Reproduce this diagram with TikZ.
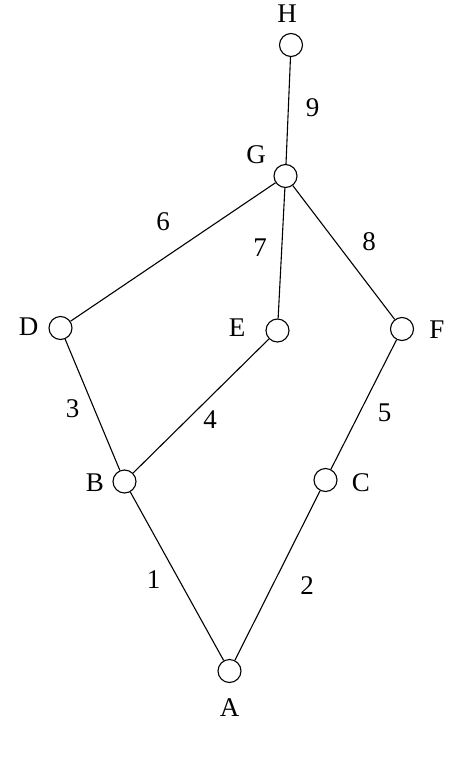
\documentclass[tikz,border=0pt]{standalone}
\usepackage{fontspec}
\setmainfont{Liberation Serif}
\begin{document}
\begin{tikzpicture}[x=1pt,y=-1pt,
  vert/.style={circle,draw,line width=1.1pt,minimum size=23pt,inner sep=0pt},
  lbl/.style={inner sep=0pt,font=\fontsize{27}{31}\selectfont},
  edge/.style={line width=1.1pt}]
\useasboundingbox (0,0) rectangle (461,761);
\node[vert] (H) at (291,45) {};
\node[vert] (G) at (285.5,176) {};
\node[vert] (D) at (60.5,328) {};
\node[vert] (E) at (277.5,330.5) {};
\node[vert] (F) at (402,329) {};
\node[vert] (B) at (124.5,481.5) {};
\node[vert] (C) at (325.5,480) {};
\node[vert] (A) at (229.5,671) {};
\node[lbl] (lH) at (287,14) {H};
\node[lbl] (lG) at (256,155) {G};
\node[lbl] (lD) at (28.5,327) {D};
\node[lbl] (lE) at (237,328) {E};
\node[lbl] (lF) at (437,330) {F};
\node[lbl] (lB) at (95,482.5) {B};
\node[lbl] (lC) at (361,482.5) {C};
\node[lbl] (lA) at (229.5,708) {A};
\draw[edge] (H) -- (G);
\draw[edge] (G) -- (D);
\draw[edge] (G) -- (E);
\draw[edge] (G) -- (F);
\draw[edge] (D) -- (B);
\draw[edge] (E) -- (B);
\draw[edge] (F) -- (C);
\draw[edge] (B) -- (A);
\draw[edge] (C) -- (A);
\node[lbl] (e9) at (312.5,108) {9};
\node[lbl] (e6) at (163,222) {6};
\node[lbl] (e7) at (260,248) {7};
\node[lbl] (e8) at (369,242) {8};
\node[lbl] (e3) at (72.5,409) {3};
\node[lbl] (e4) at (210,420) {4};
\node[lbl] (e5) at (384.5,413) {5};
\node[lbl] (e1) at (153.5,580) {1};
\node[lbl] (e2) at (307,586) {2};
\end{tikzpicture}
\end{document}
